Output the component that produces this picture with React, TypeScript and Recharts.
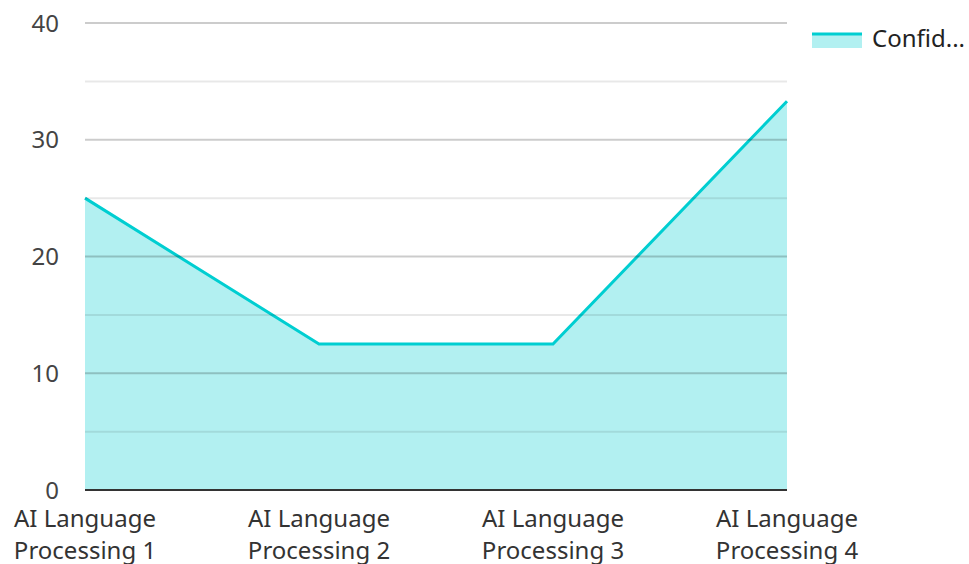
import { Area, AreaChart, Legend, ReferenceLine, XAxis, YAxis } from "recharts";

const categories = [
  "AI Language Processing 1",
  "AI Language Processing 2",
  "AI Language Processing 3",
  "AI Language Processing 4",
];
const confidence = [25, 12.5, 12.5, 33.3];
const yTicks = [0, 10, 20, 30, 40];
const majorLines = [10, 20, 30, 40];
const minorLines = [5, 15, 25, 35];
const seriesName = "Confidence";

const COLOR = "#00ced1";
const FONT = "'Noto Sans', sans-serif";

const data = categories.map((name, i) => ({ name, value: confidence[i] }));

function XTick(props: any) {
  const { x, payload } = props;
  const words = String(payload.value).split(" ");
  const line1 = words.slice(0, 2).join(" ");
  const line2 = words.slice(2).join(" ");
  return (
    <text
      x={x}
      y={490}
      textAnchor="middle"
      fill="#333"
      fontSize={24}
      fontFamily={FONT}
    >
      <tspan x={x} dy={37}>{line1}</tspan>
      <tspan x={x} dy={32}>{line2}</tspan>
    </text>
  );
}

function LegendBox() {
  return (
    <div style={{ display: "flex", alignItems: "center", fontFamily: FONT }}>
      <svg width={50} height={26} style={{ display: "block" }}>
        <rect x={0} y={10} width={50} height={13} fill={COLOR} fillOpacity={0.3} />
        <line x1={0} x2={50} y1={9} y2={9} stroke={COLOR} strokeWidth={3} />
      </svg>
      <span style={{ marginLeft: 10, fontSize: 24, color: "#222", whiteSpace: "nowrap" }}>
        {seriesName.slice(0, 6) + "..."}
      </span>
    </div>
  );
}

export default function App() {
  return (
    <div style={{ position: "absolute", top: 0, left: 0, background: "#fff" }}>
      <AreaChart
        width={969}
        height={564}
        data={data}
        margin={{ top: 23, right: 182, left: 0, bottom: 0 }}
      >
        <XAxis
          dataKey="name"
          height={74}
          interval={0}
          tickLine={false}
          tickSize={0}
          axisLine={{ stroke: "#333", strokeWidth: 2 }}
          tick={<XTick />}
        />
        <YAxis
          width={85}
          domain={[0, 40]}
          ticks={yTicks}
          tickLine={false}
          axisLine={false}
          tickSize={0}
          tickMargin={26}
          tick={{ fill: "#444", fontSize: 24, fontFamily: FONT }}
        />
        <Area
          type="linear"
          dataKey="value"
          name={seriesName}
          stroke={COLOR}
          strokeWidth={3}
          fill={COLOR}
          fillOpacity={0.3}
          isAnimationActive={false}
          dot={false}
          activeDot={false}
        />
        {minorLines.map((v) => (
          <ReferenceLine key={"m" + v} y={v} stroke="#000" strokeOpacity={0.09} strokeWidth={2} />
        ))}
        {majorLines.map((v) => (
          <ReferenceLine key={"M" + v} y={v} stroke="#000" strokeOpacity={0.2} strokeWidth={2} />
        ))}
        <Legend
          layout="horizontal"
          verticalAlign="middle"
          align="center"
          wrapperStyle={{ top: 21, left: 812, width: 157 }}
          content={() => <LegendBox />}
        />
      </AreaChart>
    </div>
  );
}
